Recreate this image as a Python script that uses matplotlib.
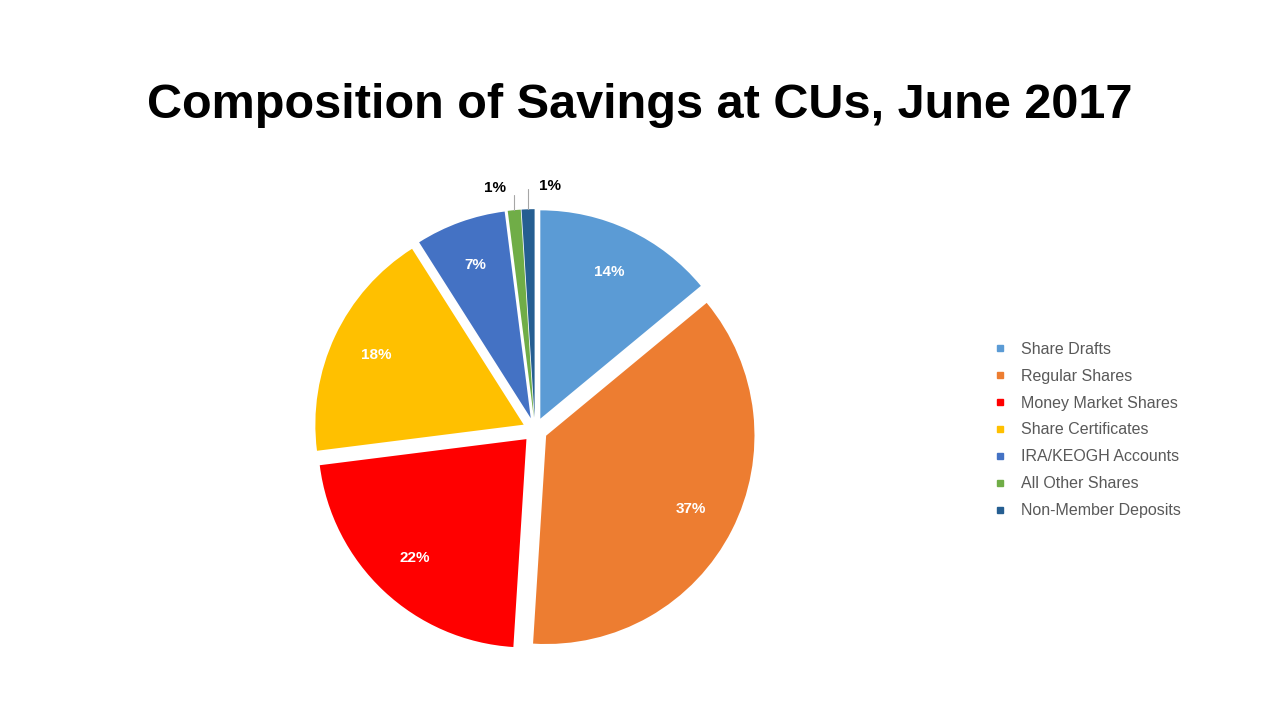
import matplotlib
matplotlib.use("Agg")
import matplotlib.pyplot as plt
import numpy as np

categories = ["Share Drafts", "Regular Shares", "Money Market Shares", "Share Certificates",
              "IRA/KEOGH Accounts", "All Other Shares", "Non-Member Deposits"]
values = [14, 37, 22, 18, 7, 1, 1]
colors = ["#5B9BD5", "#ED7D31", "#FF0000", "#FFC000", "#4472C4", "#70AD47", "#255E91"]

fig = plt.figure(figsize=(12.8, 7.2), dpi=100)
fig.text(0.5, 1 - 106 / 720, "Composition of Savings at CUs, June 2017", ha="center", va="center",
         fontsize=35, fontweight="bold", family="Liberation Sans")

w = 500 / 1280; h = 500 / 720
ax = fig.add_axes([535 / 1280 - w / 2, (1 - 430 / 720) - h / 2, w, h])
explode = [0.06] * len(values)
wedges, _ = ax.pie(values, colors=colors, startangle=90, counterclock=False,
                   explode=explode, radius=1.0, wedgeprops=dict(linewidth=0))
ax.set_xlim(-1.2, 1.2); ax.set_ylim(-1.2, 1.2); ax.set_aspect("equal"); ax.axis("off")

for i, (wd, v) in enumerate(zip(wedges, values)):
    ang = np.deg2rad((wd.theta1 + wd.theta2) / 2)
    if v >= 5:
        r = 0.78
        ax.text((r + explode[i]) * np.cos(ang), (r + explode[i]) * np.sin(ang),
                f"{v}%", ha="center", va="center", color="white", fontsize=11, fontweight="bold",
                family="Liberation Sans")
for i, (tx, ty) in zip([5, 6], [(-0.19, 1.16), (0.07, 1.17)]):
    wd = wedges[i]
    ang = np.deg2rad((wd.theta1 + wd.theta2) / 2)
    px, py = 1.06 * np.cos(ang), 1.06 * np.sin(ang)
    ax.annotate(f"{values[i]}%", xy=(px, py), xytext=(tx, ty), ha="center", va="center",
                fontsize=11, fontweight="bold", family="Liberation Sans", annotation_clip=False,
                arrowprops=dict(arrowstyle="-", color="#A6A6A6", lw=0.8, shrinkA=6, shrinkB=0,
                                connectionstyle="angle,angleA=0,angleB=90"))

handles = [plt.Line2D([0], [0], marker="s", linestyle="", markersize=5, color=c) for c in colors]
fig.legend(handles, categories, loc="center left", bbox_to_anchor=(978 / 1280, 1 - 430 / 720),
           frameon=False, prop=dict(family="Liberation Sans", size=11.5), labelcolor="#595959",
           handletextpad=0.8, labelspacing=0.75, handlelength=1.0)
fig.savefig("out.png", dpi=100)
